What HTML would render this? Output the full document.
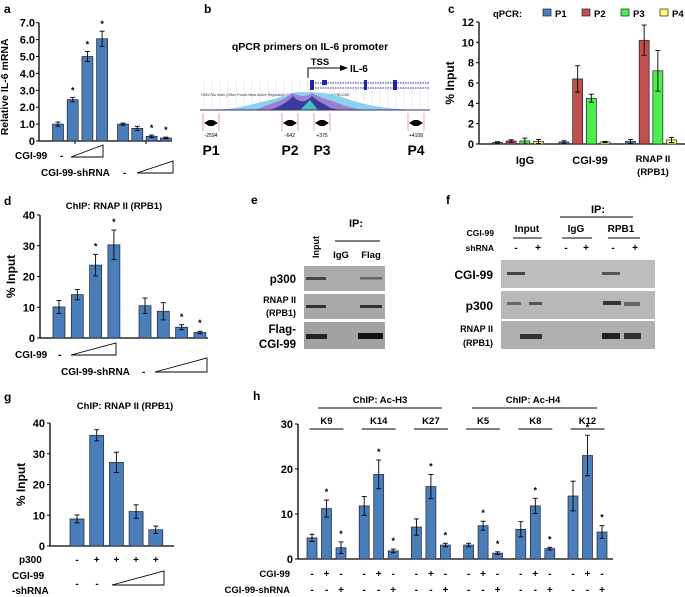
<!DOCTYPE html>
<html><head><meta charset="utf-8"><style>
html,body{margin:0;padding:0;background:#fff}
svg{display:block;font-family:"Liberation Sans",Arial,sans-serif}
.b{font-weight:bold}
</style></head><body>
<svg id="fig" width="685" height="597" viewBox="0 0 685 597" xmlns="http://www.w3.org/2000/svg">
<g class="b" font-size="12">
<text x="4" y="13">a</text>
<text x="204" y="13">b</text>
<text x="448" y="13">c</text>
<text x="4" y="205">d</text>
<text x="251" y="204">e</text>
<text x="446" y="204">f</text>
<text x="4" y="401">g</text>
<text x="253" y="400">h</text>
</g>

<!-- panel b -->
<g id="pb">
<text x="310" y="50" text-anchor="middle" font-size="10.5" class="b">qPCR primers on IL-6 promoter</text>
<text x="320" y="65" text-anchor="middle" font-size="9.5" class="b">TSS</text>
<path d="M308 78 V68 H342" stroke="#000" fill="none" stroke-width="1"/>
<path d="M340 65 L348 68 L340 71 Z" fill="#000"/>
<text x="350" y="72" font-size="10" class="b">IL-6</text>
<g stroke="#dde" stroke-width="0.6" id="vlines"></g>
<line x1="310" y1="83" x2="430" y2="83" stroke="#33a" stroke-dasharray="1.5 1"/>
<line x1="310" y1="88" x2="430" y2="88" stroke="#33a" stroke-dasharray="1.5 1"/>
<rect x="310" y="80" width="4" height="10" fill="#22a"/>
<rect x="322" y="80" width="5" height="5" fill="#22a"/>
<rect x="364" y="80" width="3" height="10" fill="#22a"/>
<rect x="393" y="80" width="4" height="10" fill="#22a"/>
<text x="201" y="96" font-size="3.6" fill="#333">H3K27Ac Mark (Often Found Near Active Regulatory Elements) on 7 cell lines from ENCODE</text>
<path d="M200 110 C240 110 250 104 270 100 C285 96 290 92 300 92 C330 92 340 96 350 100 C370 106 390 110 430 110 Z" fill="#8cd2f0"/>
<path d="M255 110 C270 104 285 100 292 93 C298 96 305 98 312 93 C320 98 330 100 340 104 C350 108 360 110 370 110 Z" fill="#9b7fd0"/>
<path d="M270 110 C282 106 290 100 293 96 C298 102 305 104 312 96 C318 102 325 104 330 108 L340 110 Z" fill="#3c3a9a"/>
<path d="M300 110 L310 100 L318 110 Z" fill="#40c0c0"/>
<line x1="200" y1="110" x2="430" y2="110" stroke="#336" stroke-width="1"/>
<g id="primers"></g>
</g>

<!-- panel e -->
<g font-weight="bold">
<text transform="translate(319,258) rotate(-90)" font-size="9">Input</text>
<text x="356" y="227" font-size="11" text-anchor="middle">IP:</text>
<line x1="335" y1="241" x2="380" y2="241" stroke="#000"/>
<text x="341" y="258" font-size="9.5" text-anchor="middle">IgG</text>
<text x="371" y="258" font-size="9.5" text-anchor="middle">Flag</text>
<rect x="304" y="266" width="81" height="25" fill="#aaa"/>
<rect x="304" y="294" width="81" height="25" fill="#a8a8a8"/>
<rect x="304" y="322" width="81" height="27" fill="#a2a2a2"/>
<rect x="306" y="277" width="20" height="3" fill="#444"/>
<rect x="360" y="277" width="22" height="2.5" fill="#666"/>
<rect x="306" y="305" width="20" height="3" fill="#333"/>
<rect x="360" y="305" width="22" height="3" fill="#333"/>
<rect x="306" y="334" width="21" height="5" fill="#222"/>
<rect x="358" y="333" width="25" height="6" fill="#111"/>
<text x="296" y="283" font-size="11.5" text-anchor="end">p300</text>
<text x="296" y="303" font-size="9" text-anchor="end">RNAP II</text>
<text x="296" y="316" font-size="9" text-anchor="end">(RPB1)</text>
<text x="296" y="333" font-size="11.5" text-anchor="end">Flag-</text>
<text x="296" y="348" font-size="11.5" text-anchor="end">CGI-99</text>
</g>

<!-- panel f -->
<g font-weight="bold">
<text x="598" y="213" font-size="11" text-anchor="middle">IP:</text>
<line x1="560" y1="217" x2="633" y2="217" stroke="#000"/>
<text x="527" y="232" font-size="10" text-anchor="middle">Input</text>
<text x="576" y="232" font-size="10" text-anchor="middle">IgG</text>
<text x="621" y="232" font-size="10" text-anchor="middle">RPB1</text>
<line x1="513" y1="238" x2="542" y2="238" stroke="#000"/>
<line x1="562" y1="238" x2="592" y2="238" stroke="#000"/>
<line x1="608" y1="238" x2="640" y2="238" stroke="#000"/>
<text x="494" y="236" font-size="8.5" text-anchor="end">CGI-99</text>
<text x="494" y="251" font-size="8.5" text-anchor="end">shRNA</text>
<g font-size="10" text-anchor="middle">
<text x="516" y="251">-</text><text x="538" y="251">+</text>
<text x="566" y="251">-</text><text x="586" y="251">+</text>
<text x="613" y="251">-</text><text x="635" y="251">+</text>
</g>
<rect x="501" y="260" width="154" height="28" fill="#bdbdbd"/>
<rect x="501" y="291" width="154" height="28" fill="#b8b8b8"/>
<rect x="501" y="321" width="154" height="28" fill="#b0b0b0"/>
<rect x="507" y="272" width="18" height="3" fill="#444"/>
<rect x="602" y="272" width="18" height="3" fill="#555"/>
<rect x="507" y="302" width="14" height="3" fill="#666"/>
<rect x="529" y="302" width="13" height="3" fill="#555"/>
<rect x="603" y="301" width="18" height="4" fill="#333"/>
<rect x="624" y="302" width="16" height="4" fill="#666"/>
<rect x="520" y="334" width="22" height="5" fill="#333"/>
<rect x="602" y="333" width="18" height="6" fill="#222"/>
<rect x="624" y="333" width="17" height="6" fill="#333"/>
<text x="493" y="279" font-size="12" text-anchor="end">CGI-99</text>
<text x="493" y="310" font-size="12" text-anchor="end">p300</text>
<text x="493" y="332" font-size="9" text-anchor="end">RNAP II</text>
<text x="493" y="346" font-size="9" text-anchor="end">(RPB1)</text>
</g>
<g id="charts"></g>
</svg>
<script>
// ---- data ----
const aCats=["c0","c1","c2","c3","s0","s1","s2","s3"];
const aVals=[1.0,2.45,5.0,6.05,1.0,0.75,0.28,0.18];
const aErr=[0.12,0.13,0.3,0.45,0.06,0.12,0.07,0.05];
const aStar=[0,1,1,1,0,0,1,1];
const aTicks=["0","1.0","2.0","3.0","4.0","5.0","6.0","7.0"];

const cGroups=["IgG","CGI-99","RNAP II"];
const cSeries=["P1","P2","P3","P4"];
const cP1=[0.15,0.2,0.25];
const cP2=[0.3,6.4,10.2];
const cP3=[0.3,4.5,7.2];
const cP4=[0.25,0.2,0.4];
const cE1=[0.08,0.12,0.2];
const cE2=[0.12,1.3,1.5];
const cE3=[0.28,0.4,2.0];
const cE4=[0.2,0.06,0.25];
const cTicks=[0,2,4,6,8,10,12];

const dVals=[10.1,14.1,23.7,30.3,10.5,8.7,3.5,1.8];
const dErr=[2.1,1.7,3.5,4.8,2.5,2.8,0.8,0.4];
const dStar=[0,0,1,1,0,0,1,1];
const dTicks=[0,10,20,30,40];

const gVals=[8.8,36,27.2,11.2,5.3];
const gErr=[1.3,1.8,3.3,2.2,1.2];
const gP300=["-","+","+","+","+"];
const gTicks=[0,10,20,30,40];

const hGroups=["K9","K14","K27","K5","K8","K12"];
const hCtrl=[4.7,11.8,7.1,3.1,6.6,14];
const hCgi=[11.2,18.8,16.1,7.4,11.8,23];
const hSh=[2.5,1.8,3.1,1.3,2.3,6];
const hCtrlE=[0.8,2.1,1.8,0.4,1.7,3.3];
const hCgiE=[1.9,3.2,2.7,1.0,1.7,4.5];
const hShE=[1.3,0.4,0.4,0.3,0.3,1.4];
const hTicks=[0,10,20,30];

const primerNames=["P1","P2","P3","P4"];
const primerPos=["-2594","-642","+375","+4108"];

// ---- helpers ----
const NS="http://www.w3.org/2000/svg";
const root=document.getElementById("charts");
function mk(tag,at,parent,txt){const e=document.createElementNS(NS,tag);for(const k in at)e.setAttribute(k,at[k]);if(txt!==undefined)e.textContent=txt;(parent||root).appendChild(e);return e;}
const BLUE="#4a7ebb";
function bar(g,cx,w,y0,yv,fill,name){const r=mk("rect",{x:cx-w/2,y:Math.min(yv,y0),width:w,height:Math.abs(y0-yv),fill:fill,stroke:"#223",["stroke-width"]:0.7},g);


return r;}
function err(g,cx,yt,yb){mk("line",{x1:cx,x2:cx,y1:yt,y2:yb,stroke:"#000","stroke-width":0.9},g);mk("line",{x1:cx-2.5,x2:cx+2.5,y1:yt,y2:yt,stroke:"#000","stroke-width":0.9},g);mk("line",{x1:cx-2.5,x2:cx+2.5,y1:yb,y2:yb,stroke:"#000","stroke-width":0.9},g);}
function star(g,cx,y){mk("text",{x:cx,y:y,"text-anchor":"middle","font-size":9,"font-weight":"bold"},g,"*");}
function axes(g,x0,y0,x1,ytop){mk("line",{x1:x0,x2:x0,y1:ytop,y2:y0,stroke:"#000","stroke-width":1.3},g);mk("line",{x1:x0,x2:x1,y1:y0,y2:y0,stroke:"#000","stroke-width":1.3},g);}
function tri(g,x1,x2,yb,yt){mk("path",{d:`M${x1} ${yb} L${x2} ${yt} L${x2} ${yb} Z`,fill:"none",stroke:"#000","stroke-width":0.9},g);}

// ---- panel b primers ----
const pg=document.getElementById("primers");
const pX=[211,290,322,416];
const vl=document.getElementById("vlines");
for(let x=204;x<430;x+=8) mk("line",{x1:x,x2:x,y1:80,y2:110},vl);
primerNames.forEach((n,i)=>{const x=pX[i];
mk("line",{x1:x-8,x2:x-8,y1:113,y2:131,stroke:"#e08080","stroke-width":0.7},pg);
mk("line",{x1:x+8,x2:x+8,y1:113,y2:131,stroke:"#e08080","stroke-width":0.7},pg);
mk("path",{d:`M${x-7} 123 L${x-2} 120 L${x+2} 120 L${x+7} 123 L${x+2} 126 L${x-2} 126 Z`,fill:"#000"},pg);
mk("text",{x:x,y:137,"text-anchor":"middle","font-size":5},pg,primerPos[i]);
const t=mk("text",{x:x,y:155,"text-anchor":"middle","font-size":14,"font-weight":"bold"},pg,n);


});

// ---- panel a ----
(function(){const g=mk("g",{});


const x0=39,y0=141,ytop=22.7,max=7;const Y=v=>y0-(y0-ytop)*v/max;
const X=i=>(i<4?58+i*14.7:123+(i-4)*14.3);
axes(g,x0,y0,172,ytop);
aTicks.forEach((t,i)=>{mk("line",{x1:x0-3,x2:x0,y1:Y(i),y2:Y(i),stroke:"#000"},g);mk("text",{x:x0-4,y:Y(i)+4,"text-anchor":"end","font-size":11,"font-weight":"bold"},g,t);});
aVals.forEach((v,i)=>{bar(g,X(i),11,y0,Y(v),BLUE,"bar-a-"+aCats[i]);err(g,X(i),Y(v+aErr[i]),Y(v-aErr[i]));if(aStar[i])star(g,X(i),Y(v+aErr[i])-4);});
mk("line",{x1:x0+36,x2:x0+36,y1:y0,y2:y0+3,stroke:"#000"},g);mk("line",{x1:x0+107,x2:x0+107,y1:y0,y2:y0+3,stroke:"#000"},g);
mk("text",{transform:`translate(8,${(y0+ytop)/2+5}) rotate(-90)`,"text-anchor":"middle","font-size":10.5,"font-weight":"bold"},g,"Relative IL-6 mRNA");
mk("text",{x:15,y:159,"font-size":10,"font-weight":"bold"},g,"CGI-99");mk("text",{x:60,y:159,"font-size":10,"font-weight":"bold"},g,"-");
tri(g,71,103,157,145);
mk("text",{x:41,y:176,"font-size":10,"font-weight":"bold"},g,"CGI-99-shRNA");mk("text",{x:123,y:176,"font-size":10,"font-weight":"bold"},g,"-");
tri(g,137,173,173,161);
})();

// ---- panel c ----
(function(){const g=mk("g",{});


const x0=479,y0=144,ytop=22,max=12;const Y=v=>y0-(y0-ytop)*v/max;
const cols=["#4a7ebb","#c0504d","#4cf04c","#ffff70"];const vals=[cP1,cP2,cP3,cP4];const errs=[cE1,cE2,cE3,cE4];
axes(g,x0,y0,685,ytop);
cTicks.forEach(t=>{mk("line",{x1:x0-3,x2:x0,y1:Y(t),y2:Y(t),stroke:"#000"},g);mk("text",{x:x0-5,y:Y(t)+4,"text-anchor":"end","font-size":11,"font-weight":"bold"},g,String(t));});
cGroups.forEach((gn,gi)=>{const cx=518+gi*66.5;
vals.forEach((s,si)=>{const x=cx+(si-1.5)*13.7;bar(g,x,10,y0,Y(s[gi]),cols[si],"bar-c-"+cSeries[si]+"-"+gi);err(g,x,Y(s[gi]+errs[si][gi]),Y(Math.max(0,s[gi]-errs[si][gi])));});});
mk("text",{x:525,y:164,"text-anchor":"middle","font-size":11,"font-weight":"bold"},g,"IgG");
mk("text",{x:590,y:164,"text-anchor":"middle","font-size":11,"font-weight":"bold"},g,"CGI-99");
mk("text",{x:653,y:162,"text-anchor":"middle","font-size":9.5,"font-weight":"bold"},g,"RNAP II");
mk("text",{x:653,y:175,"text-anchor":"middle","font-size":9.5,"font-weight":"bold"},g,"(RPB1)");
mk("text",{transform:`translate(454,${(y0+ytop)/2}) rotate(-90)`,"text-anchor":"middle","font-size":12,"font-weight":"bold"},g,"% Input");
mk("text",{x:493,y:17,"font-size":9.5,"font-weight":"bold"},g,"qPCR:");
cSeries.forEach((s,i)=>{const lx=543+i*39;mk("rect",{x:lx,y:9,width:8,height:7,fill:cols[i],stroke:"#223","stroke-width":0.7},g);const t=mk("text",{x:lx+12,y:17,"font-size":9.5,"font-weight":"bold"},g,s);

});
})();

// ---- panel d ----
(function(){const g=mk("g",{});


const x0=40,y0=338,ytop=215,max=40;const Y=v=>y0-(y0-ytop)*v/max;
const X=i=>(i<4?59+i*18.3:145+(i-4)*18.3);
axes(g,x0,y0,208,ytop);
dTicks.forEach(t=>{mk("line",{x1:x0-3,x2:x0,y1:Y(t),y2:Y(t),stroke:"#000"},g);mk("text",{x:x0-5,y:Y(t)+4,"text-anchor":"end","font-size":11,"font-weight":"bold"},g,String(t));});
dVals.forEach((v,i)=>{bar(g,X(i),12,y0,Y(v),BLUE,"bar-d-"+i);err(g,X(i),Y(v+dErr[i]),Y(v-dErr[i]));if(dStar[i])star(g,X(i),Y(v+dErr[i])-5);});
mk("text",{x:114,y:209,"text-anchor":"middle","font-size":9.5,"font-weight":"bold"},g,"ChIP: RNAP II (RPB1)");
mk("text",{transform:`translate(15,${(y0+ytop)/2}) rotate(-90)`,"text-anchor":"middle","font-size":12,"font-weight":"bold"},g,"% Input");
mk("text",{x:15,y:358,"font-size":10,"font-weight":"bold"},g,"CGI-99");mk("text",{x:58,y:358,"font-size":10,"font-weight":"bold"},g,"-");
tri(g,71,116,355,343);
mk("text",{x:61,y:375,"font-size":10,"font-weight":"bold"},g,"CGI-99-shRNA");mk("text",{x:142,y:375,"font-size":10,"font-weight":"bold"},g,"-");
tri(g,155,207,372,358);
})();

// ---- panel g ----
(function(){const g=mk("g",{});


const x0=50,y0=546,ytop=423,max=40;const Y=v=>y0-(y0-ytop)*v/max;
const X=i=>77+i*19.7;
axes(g,x0,y0,174,ytop);
gTicks.forEach(t=>{mk("line",{x1:x0-3,x2:x0,y1:Y(t),y2:Y(t),stroke:"#000"},g);mk("text",{x:x0-5,y:Y(t)+4,"text-anchor":"end","font-size":11,"font-weight":"bold"},g,String(t));});
gVals.forEach((v,i)=>{bar(g,X(i),14,y0,Y(v),BLUE,"bar-g-"+i);err(g,X(i),Y(v+gErr[i]),Y(v-gErr[i]));
mk("text",{x:X(i),y:563,"text-anchor":"middle","font-size":10,"font-weight":"bold"},g,gP300[i]);});
mk("text",{x:125,y:409,"text-anchor":"middle","font-size":9.5,"font-weight":"bold"},g,"ChIP: RNAP II (RPB1)");
mk("text",{transform:`translate(25,${(y0+ytop)/2}) rotate(-90)`,"text-anchor":"middle","font-size":12,"font-weight":"bold"},g,"% Input");
mk("text",{x:19,y:563,"font-size":10,"font-weight":"bold"},g,"p300");
mk("text",{x:12,y:579,"font-size":10,"font-weight":"bold"},g,"CGI-99");
mk("text",{x:12,y:594,"font-size":10,"font-weight":"bold"},g,"-shRNA");
mk("text",{x:77,y:587,"text-anchor":"middle","font-size":10,"font-weight":"bold"},g,"-");
mk("text",{x:97,y:587,"text-anchor":"middle","font-size":10,"font-weight":"bold"},g,"-");
tri(g,112,164,585,571);
})();

// ---- panel h ----
(function(){const g=mk("g",{});


const x0=298,y0=559,ytop=424,max=30;const Y=v=>y0-(y0-ytop)*v/max;
axes(g,x0,y0,613,ytop);
hTicks.forEach(t=>{mk("line",{x1:x0-3,x2:x0,y1:Y(t),y2:Y(t),stroke:"#000"},g);mk("text",{x:x0-5,y:Y(t)+4,"text-anchor":"end","font-size":11,"font-weight":"bold"},g,String(t));});
const ser=[hCtrl,hCgi,hSh],se=[hCtrlE,hCgiE,hShE];
const cgiRow=["-","+","-"],shRow=["-","-","+"];
hGroups.forEach((gn,gi)=>{const cx=326.5+gi*52.2;
ser.forEach((s,si)=>{const x=cx+(si-1)*14.5;const v=s[gi],e=se[si][gi];bar(g,x,10,y0,Y(v),BLUE,"bar-h-"+gn+"-"+si);err(g,x,Y(v+e),Y(v-e));if(si>0)star(g,x,Y(v+e)-5);
mk("text",{x:x,y:577,"text-anchor":"middle","font-size":10,"font-weight":"bold"},g,cgiRow[si]);
mk("text",{x:x,y:593,"text-anchor":"middle","font-size":10,"font-weight":"bold"},g,shRow[si]);});
mk("text",{x:cx,y:424,"text-anchor":"middle","font-size":9.5,"font-weight":"bold"},g,gn);
mk("line",{x1:cx-17,x2:cx+17,y1:429,y2:429,stroke:"#000"},g);});
mk("text",{x:380,y:403,"text-anchor":"middle","font-size":9.5,"font-weight":"bold"},g,"ChIP: Ac-H3");
mk("line",{x1:318,x2:442,y1:408,y2:408,stroke:"#000"},g);
mk("text",{x:533,y:403,"text-anchor":"middle","font-size":9.5,"font-weight":"bold"},g,"ChIP: Ac-H4");
mk("line",{x1:472,x2:597,y1:408,y2:408,stroke:"#000"},g);
mk("text",{x:290,y:577,"text-anchor":"end","font-size":9.5,"font-weight":"bold"},g,"CGI-99");
mk("text",{x:290,y:593,"text-anchor":"end","font-size":9.5,"font-weight":"bold"},g,"CGI-99-shRNA");
})();
</script>
</body></html>
